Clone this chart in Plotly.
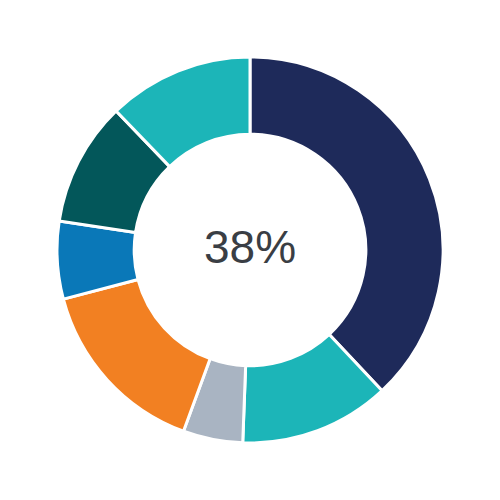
import plotly.graph_objects as go

labels = ["A", "B", "C", "D", "E", "F", "G"]
values = [38, 12.6, 5.0, 15.3, 6.5, 10.4, 12.2]
colors = ["#1e2a5a", "#1cb5b8", "#a9b4c2", "#f28022", "#0a78b8", "#03575a", "#1cb5b8"]
center_text = "38%"

fig = go.Figure(go.Pie(
    labels=labels,
    values=values,
    hole=0.6,
    sort=False,
    direction="clockwise",
    rotation=0,
    textinfo="none",
    marker=dict(colors=colors, line=dict(color="white", width=3)),
    domain=dict(x=[0.098, 0.870], y=[0.130, 0.902]),
    showlegend=False,
))
fig.add_annotation(text=center_text, x=0.484, y=0.522, xref="paper", yref="paper",
                   showarrow=False, font=dict(size=46, color="#3a3e44", family="Liberation Sans, Arial, sans-serif"))
fig.update_layout(width=500, height=500, margin=dict(l=0, r=0, t=0, b=0),
                  paper_bgcolor="white", plot_bgcolor="white")
fig.write_html("out.html")
